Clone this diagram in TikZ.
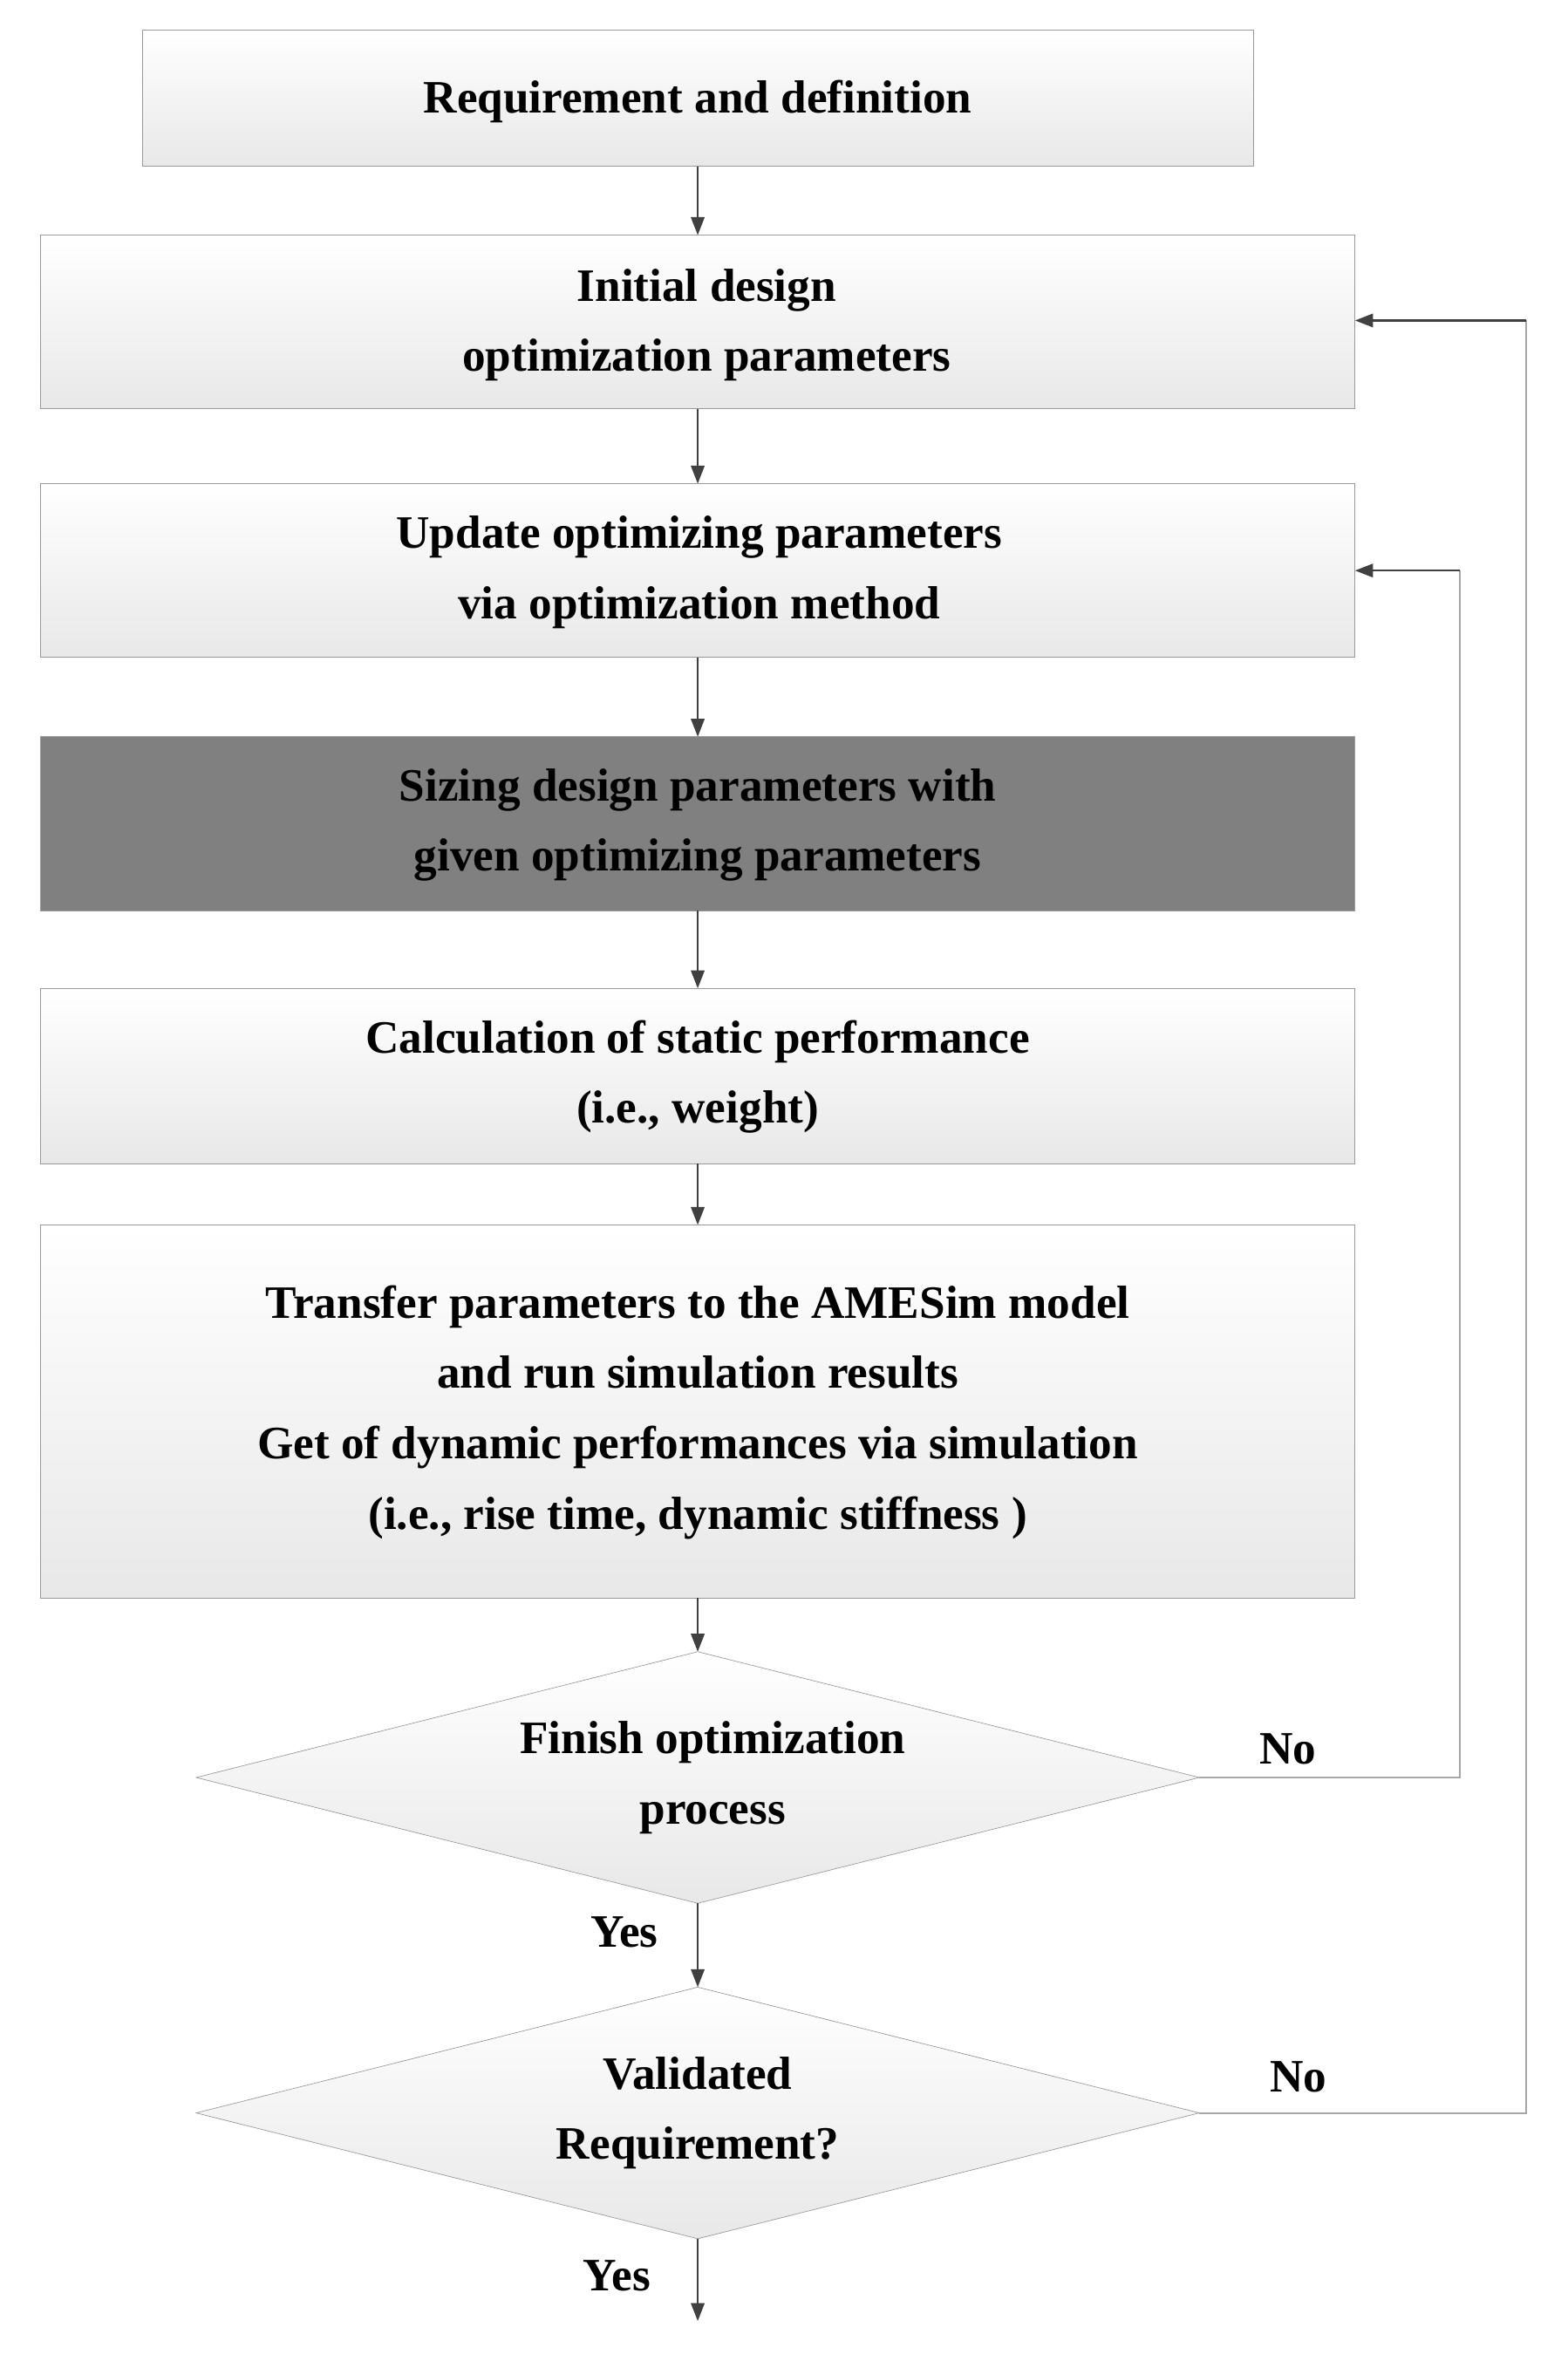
\documentclass[tikz,border=0pt]{standalone}
\usepackage{fontspec}
\setmainfont{Liberation Serif}
\usetikzlibrary{shapes.geometric,arrows.meta}
\begin{document}
\begin{tikzpicture}[x=1pt,y=-1pt,
  box/.style={draw=gray!80,top color=white,bottom color=gray!18,inner sep=0},
  txt/.style={font=\fontsize{31}{47}\selectfont\bfseries,align=center},
  arr/.style={draw=black!75,line width=1.3pt,-{Triangle[length=12pt,width=9pt]}},
  fb/.style={draw=gray!70,line width=1.2pt}]
\useasboundingbox (0,0) rectangle (1047,1572);
\path[box] (95,20) rectangle (837,111);
\node[txt] (b1) at (466,68) {Requirement and definition};
\path[box] (27,157) rectangle (905,273);
\node[txt] (b2) at (472,217) {Initial design\\optimization parameters};
\path[box] (27,323) rectangle (905,439);
\node[txt] (b3) at (467,382) {Update optimizing parameters\\via optimization method};
\path[draw=gray!80,fill=black!50] (27,492) rectangle (905,608);
\node[txt] (b4) at (466,551) {Sizing design parameters with\\given optimizing parameters};
\path[box] (27,660) rectangle (905,777);
\node[txt] (b5) at (466,719) {Calculation of static performance\\(i.e., weight)};
\path[box] (27,818) rectangle (905,1067);
\node[txt] (b6) at (466,943) {Transfer parameters to the AMESim model\\and run simulation results\\Get of dynamic performances via simulation\\(i.e., rise time, dynamic stiffness )};
\path[box] (131,1187) -- (466,1103) -- (801,1187) -- (466,1271) -- cycle;
\node[txt] (d1) at (476,1187) {Finish optimization\\process};
\path[box] (131,1411) -- (466,1327) -- (801,1411) -- (466,1495) -- cycle;
\node[txt] (d2) at (466,1411) {Validated\\Requirement?};
\coordinate (a1) at (466,111); \coordinate (a2) at (466,157);
\coordinate (a3) at (466,273); \coordinate (a4) at (466,323);
\coordinate (a5) at (466,439); \coordinate (a6) at (466,492);
\coordinate (a7) at (466,608); \coordinate (a8) at (466,660);
\coordinate (a9) at (466,777); \coordinate (a10) at (466,818);
\coordinate (a11) at (466,1067); \coordinate (a12) at (466,1103);
\coordinate (a13) at (466,1271); \coordinate (a14) at (466,1327);
\coordinate (a15) at (466,1495); \coordinate (a16) at (466,1550);
\foreach \s/\t in {a1/a2,a3/a4,a5/a6,a7/a8,a9/a10,a11/a12,a13/a14,a15/a16}
  \draw[arr] (\s) -- (\t);
\coordinate (r1) at (801,1187); \coordinate (t1) at (905,381);
\coordinate (r2) at (801,1411); \coordinate (t2) at (905,214);
\draw[fb] (r1) -- (975,1187) -- (975,381);
\draw[arr] (975,381) -- (t1);
\draw[fb] (r2) -- (1019,1411) -- (1019,214);
\draw[arr] (1019,214) -- (t2);
\node[txt] (n1) at (860,1168) {No};
\node[txt] (n2) at (867,1387) {No};
\node[txt] (y1) at (417,1290) {Yes};
\node[txt] (y2) at (412,1520) {Yes};
\end{tikzpicture}
\end{document}
